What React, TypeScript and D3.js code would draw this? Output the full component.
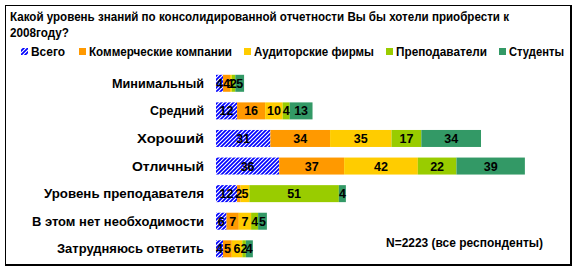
import React from "react";
import * as d3 from "d3";

// ---- data ----
const categories = [
  "Минимальный",
  "Средний",
  "Хороший",
  "Отличный",
  "Уровень преподавателя",
  "В этом нет необходимости",
  "Затрудняюсь ответить",
];
const seriesNames = ["Всего", "Коммерческие компании", "Аудиторские фирмы", "Преподаватели", "Студенты"];
const vsego = [4, 12, 31, 36, 12, 6, 4];
const kommercheskie = [4, 16, 34, 37, 2, 7, 5];
const auditorskie = [1, 10, 35, 42, 5, 7, 6];
const prepodavateli = [2, 4, 17, 22, 51, 4, 2];
const studenty = [5, 13, 34, 39, 4, 5, 4];
const titleLines = [
  "Какой уровень знаний по консолидированной отчетности Вы бы хотели приобрести к",
  "2008году?",
];
const noteText = "N=2223 (все респонденты)";

// ---- styling / layout ----
const W = 576;
const H = 269;
const colors = ["url(#hatch)", "#FF9900", "#FFCC00", "#99CC00", "#339966"];
const legendTextX = [31, 89, 254, 396, 509];
const legendTextLen = [34, 143, 120, 91, 55];
const catTextLen = [92, 54, 67, 72, 160, 172, 147];
const FONT = "'Liberation Sans', Arial, sans-serif";

export default function App() {
  const series = [vsego, kommercheskie, auditorskie, prepodavateli, studenty];
  const x = d3.scaleLinear().domain([0, 100]).range([216, 391.5]);
  const y = d3
    .scaleBand<string>()
    .domain(categories)
    .range([69.5, 262.6])
    .paddingInner(0.384)
    .paddingOuter(0.192);

  const table = categories.map((c, i) => {
    const row: any = { cat: c };
    seriesNames.forEach((s, j) => (row[s] = series[j][i]));
    return row;
  });
  const stacked = d3.stack<any>().keys(seriesNames)(table);

  return (
    <svg
      width={W}
      height={H}
      style={{ position: "absolute", left: 0, top: 0, background: "#fff" }}
      fontFamily={FONT}
    >
      <defs>
        <pattern id="hatch" patternUnits="userSpaceOnUse" width={4} height={4}>
          <rect width={4} height={4} fill="#fff" />
          <path d="M-1,1 l2,-2 M0,4 l4,-4 M3,5 l2,-2" stroke="#0000FF" strokeWidth={1.7} />
        </pattern>
      </defs>
      <rect x={0} y={0} width={W} height={H} fill="#fff" />
      {/* frame */}
      <rect x={5.5} y={5.5} width={565} height={259} fill="none" stroke="#000" strokeWidth={1} />
      <line x1={571.5} y1={5} x2={571.5} y2={266} stroke="#000" strokeWidth={1} />
      <line x1={5} y1={265.5} x2={572} y2={265.5} stroke="#000" strokeWidth={1} />

      {/* title */}
      <text x={10} y={21} fontSize={13} fontWeight="bold" textLength={499} lengthAdjust="spacingAndGlyphs">
        {titleLines[0]}
      </text>
      <text x={10} y={37} fontSize={13} fontWeight="bold" textLength={59} lengthAdjust="spacingAndGlyphs">
        {titleLines[1]}
      </text>

      {/* legend */}
      {seriesNames.map((s, j) => (
        <g key={s}>
          <rect x={legendTextX[j] - 10} y={48} width={7} height={7} fill={colors[j]} />
          <text
            x={legendTextX[j]}
            y={56}
            fontSize={12.5}
            fontWeight="bold"
            textLength={legendTextLen[j]}
            lengthAdjust="spacingAndGlyphs"
          >
            {s}
          </text>
        </g>
      ))}

      {/* category labels */}
      {categories.map((c, i) => (
        <text
          key={c}
          x={204}
          y={(y(c) as number) + y.bandwidth() / 2 + 4.5}
          textAnchor="end"
          fontSize={12.5}
          fontWeight="bold"
          textLength={catTextLen[i]}
          lengthAdjust="spacingAndGlyphs"
        >
          {c}
        </text>
      ))}

      {/* bars */}
      {stacked.map((layer, j) => (
        <g key={layer.key}>
          {layer.map((d, i) => (
            <rect
              key={i}
              x={x(d[0])}
              y={y(categories[i])}
              width={x(d[1]) - x(d[0])}
              height={y.bandwidth()}
              fill={colors[j]}
            />
          ))}
        </g>
      ))}
      {/* value labels */}
      {stacked.map((layer) => (
        <g key={"l" + layer.key}>
          {layer.map((d, i) => (
            <text
              key={i}
              x={(x(d[0]) + x(d[1])) / 2}
              y={(y(categories[i]) as number) + y.bandwidth() / 2 + 4.5}
              textAnchor="middle"
              fontSize={12.5}
              fontWeight="bold"
            >
              {d[1] - d[0]}
            </text>
          ))}
        </g>
      ))}

      <text x={386} y={247} fontSize={12.5} fontWeight="bold" textLength={157} lengthAdjust="spacingAndGlyphs">
        {noteText}
      </text>
    </svg>
  );
}
